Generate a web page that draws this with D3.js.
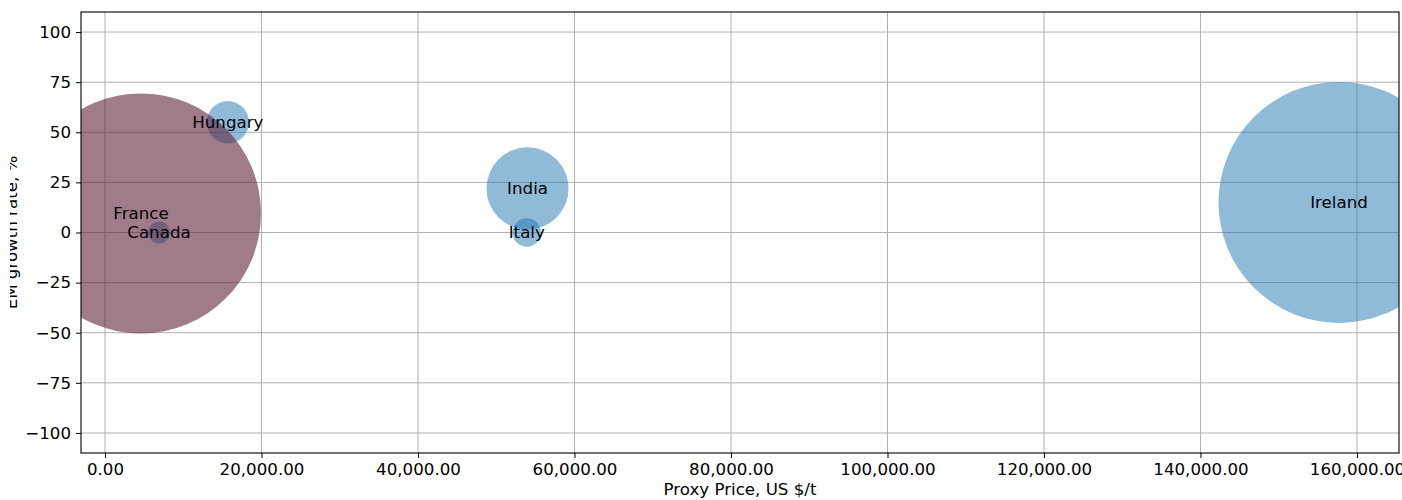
<!DOCTYPE html>
<html>
<head>
<meta charset="utf-8">
<script src="https://cdn.jsdelivr.net/npm/d3@7"></script>
<style>
  html, body { margin: 0; padding: 0; background: #fff; }
  svg { display: block; font-family: "DejaVu Sans", sans-serif; }
</style>
</head>
<body>
<svg id="chart" width="1402" height="500"></svg>
<script>
// ---- data ----
const countries = ["Hungary", "Canada", "India", "Italy", "Ireland", "France"];
const proxyPrice = [15700, 6900, 54000, 53900, 157700, 4600];     // US $/t
const growthRate = [55, 0, 22, 0, 15, 9.5];                         // %
const bubbleSize = [31, 8.4, 117, 14, 1008, 1000];                  // relative size
const group = ["blue", "blue", "blue", "blue", "blue", "red"];
const xTicks = [0, 20000, 40000, 60000, 80000, 100000, 120000, 140000, 160000];
const yTicks = [-100, -75, -50, -25, 0, 25, 50, 75, 100];
const xLabel = "Proxy Price, US $/t";
const yLabel = "EM growth rate, %";

// ---- layout ----
const W = 1402, H = 500;
const m = { left: 81, right: 3, top: 12, bottom: 47 };
const fs = 16.67;
const svg = d3.select("#chart");

const x = d3.scaleLinear().domain([-3067, 165370]).range([m.left, W - m.right]);
const y = d3.scaleLinear().domain([-110, 110]).range([H - m.bottom, m.top]);
const r = d3.scaleSqrt().domain([0, 1000]).range([0, 120]);

const colors = { blue: "#1f77b4", red: "#61253e" };
const alphas = { blue: 0.5, red: 0.6 };

svg.append("defs").append("clipPath").attr("id", "plotclip")
  .append("rect").attr("x", m.left).attr("y", m.top)
  .attr("width", W - m.right - m.left).attr("height", H - m.bottom - m.top);
svg.select("defs").append("clipPath").attr("id", "ylabclip")
  .append("rect").attr("x", 10).attr("y", 0).attr("width", 60).attr("height", H);

// grid
const grid = svg.append("g");
grid.selectAll(".gx").data(xTicks).join("line")
  .attr("x1", d => x(d)).attr("x2", d => x(d))
  .attr("y1", m.top).attr("y2", H - m.bottom)
  .attr("stroke", "#b0b0b0").attr("stroke-width", 1);
grid.selectAll(".gy").data(yTicks).join("line")
  .attr("x1", m.left).attr("x2", W - m.right)
  .attr("y1", d => y(d)).attr("y2", d => y(d))
  .attr("stroke", "#b0b0b0").attr("stroke-width", 1);

// bubbles
const data = countries.map((c, i) => ({
  name: c, x: proxyPrice[i], y: growthRate[i], s: bubbleSize[i], g: group[i]
}));
svg.append("g").attr("clip-path", "url(#plotclip)")
  .selectAll("circle").data(data).join("circle")
  .attr("cx", d => x(d.x)).attr("cy", d => y(d.y)).attr("r", d => r(d.s))
  .attr("fill", d => colors[d.g]).attr("fill-opacity", d => alphas[d.g]);

// labels
svg.append("g").attr("clip-path", "url(#plotclip)")
  .selectAll("text").data(data).join("text")
  .attr("x", d => x(d.x)).attr("y", d => y(d.y))
  .attr("text-anchor", "middle").attr("dominant-baseline", "central")
  .attr("font-size", fs).attr("fill", "#000")
  .text(d => d.name);

// axes
const fmtY = d => (d < 0 ? "\u2212" + Math.abs(d) : String(d));
const xAxis = svg.append("g").attr("transform", `translate(0,${H - m.bottom})`)
  .call(d3.axisBottom(x).tickValues(xTicks).tickFormat(d3.format(",.2f")).tickSizeOuter(0).tickSize(5).tickPadding(5));
const yAxis = svg.append("g").attr("transform", `translate(${m.left},0)`)
  .call(d3.axisLeft(y).tickValues(yTicks).tickFormat(fmtY).tickSizeOuter(0).tickSize(5).tickPadding(5));
[xAxis, yAxis].forEach(a => {
  a.select(".domain").remove();
  a.selectAll("text").attr("font-size", fs).attr("font-family", "DejaVu Sans, sans-serif").attr("fill", "#000");
  a.selectAll("line").attr("stroke", "#000").attr("stroke-width", 1);
});

// spines
svg.append("rect").attr("x", m.left).attr("y", m.top)
  .attr("width", W - m.right - m.left).attr("height", H - m.bottom - m.top)
  .attr("fill", "none").attr("stroke", "#000").attr("stroke-width", 1.1);

// axis labels
svg.append("text").attr("x", (m.left + W - m.right) / 2).attr("y", 495)
  .attr("text-anchor", "middle").attr("font-size", fs).text(xLabel);
svg.append("g").attr("clip-path", "url(#ylabclip)")
  .append("text").attr("transform", `translate(17,${(m.top + H - m.bottom) / 2}) rotate(-90)`)
  .attr("text-anchor", "middle").attr("font-size", fs).text(yLabel);
</script>
</body>
</html>
